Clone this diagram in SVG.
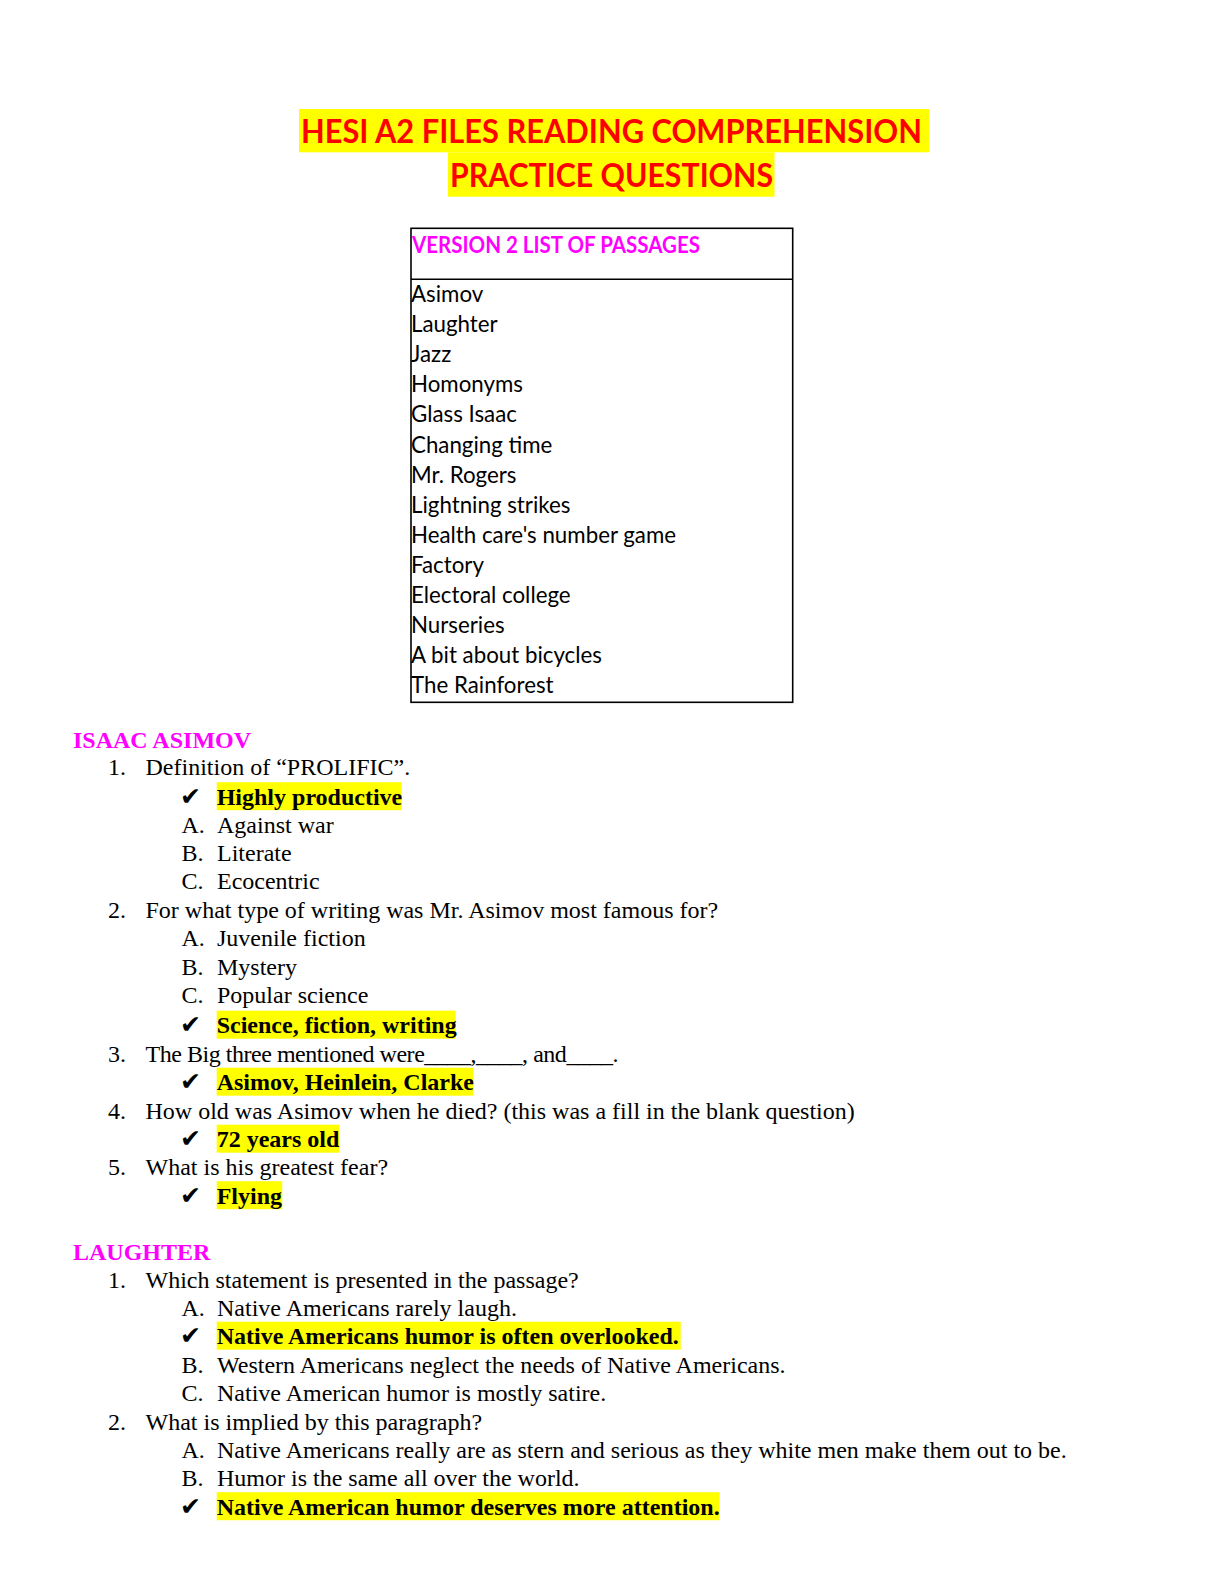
<svg xmlns="http://www.w3.org/2000/svg" width="1224" height="1584" viewBox="0 0 1224 1584">
<style>
.bg{fill:#ffffff}
.hl{fill:#ffff00}
.title{font-family:"Lato","Liberation Sans",sans-serif;font-weight:bold;font-size:32px;fill:#ff0000}
.th{font-family:"Lato","Liberation Sans",sans-serif;font-weight:bold;font-size:22px;fill:#ff00ff}
.ti{font-family:"Lato","Liberation Sans",sans-serif;font-size:22.3px;fill:#000}
.frame{fill:none;stroke:#000;stroke-width:1.6}
.b{font-family:"Liberation Serif","Times New Roman",serif;font-size:24px;fill:#000}
.a{font-family:"Liberation Serif","Times New Roman",serif;font-size:24px;font-weight:bold;fill:#000}
.h{font-family:"Liberation Serif","Times New Roman",serif;font-size:24px;font-weight:bold;fill:#ff00ff}
.c{font-family:"DejaVu Sans",sans-serif;font-size:25px;font-style:oblique;fill:#000}
</style>
<rect class="bg" x="0" y="0" width="1224" height="1584"/>

<g id="title">
<rect class="hl" x="299" y="109" width="630" height="43.3"/>
<rect class="hl" x="448" y="152.3" width="326.5" height="44.4"/>
<text class="title" x="301" y="143.3" textLength="621" lengthAdjust="spacingAndGlyphs">HESI A2 FILES READING COMPREHENSION</text>
<text class="title" x="450" y="187.3" textLength="323" lengthAdjust="spacingAndGlyphs">PRACTICE QUESTIONS</text>
</g>

<g id="passage-list">
<rect class="frame" x="411" y="228.3" width="381.7" height="474"/>
<line class="frame" x1="411" y1="279.3" x2="792.7" y2="279.3"/>
<text class="th" x="412" y="252.7" textLength="288" lengthAdjust="spacingAndGlyphs">VERSION 2 LIST OF PASSAGES</text>
<text class="ti" x="411" y="302.3">Asimov</text>
<text class="ti" x="411" y="332.3">Laughter</text>
<text class="ti" x="411" y="362.4">Jazz</text>
<text class="ti" x="411" y="392.4">Homonyms</text>
<text class="ti" x="411" y="422.4">Glass Isaac</text>
<text class="ti" x="411" y="452.5">Changing time</text>
<text class="ti" x="411" y="482.5">Mr. Rogers</text>
<text class="ti" x="411" y="512.5">Lightning strikes</text>
<text class="ti" x="411" y="542.5">Health care's number game</text>
<text class="ti" x="411" y="572.6">Factory</text>
<text class="ti" x="411" y="602.6">Electoral college</text>
<text class="ti" x="411" y="632.6">Nurseries</text>
<text class="ti" x="411" y="662.7">A bit about bicycles</text>
<text class="ti" x="411" y="692.7">The Rainforest</text>
</g>

<g id="isaac-asimov">
<text class="h" x="73" y="748">ISAAC ASIMOV</text>
<text class="b" x="108" y="775">1.</text><text class="b" x="145.5" y="775">Definition of “PROLIFIC”.</text>
<rect class="hl" x="216.7" y="782.2" width="185" height="28"/>
<text class="c" x="180" y="804.5">✔</text><text class="a" x="216.7" y="804.5">Highly productive</text>
<text class="b" x="181.5" y="833">A.</text><text class="b" x="217" y="833">Against war</text>
<text class="b" x="181.5" y="861">B.</text><text class="b" x="217" y="861">Literate</text>
<text class="b" x="181.5" y="889">C.</text><text class="b" x="217" y="889">Ecocentric</text>
<text class="b" x="108" y="917.5">2.</text><text class="b" x="145.5" y="917.5">For what type of writing was Mr. Asimov most famous for?</text>
<text class="b" x="181.5" y="946">A.</text><text class="b" x="217" y="946">Juvenile fiction</text>
<text class="b" x="181.5" y="974.5">B.</text><text class="b" x="217" y="974.5">Mystery</text>
<text class="b" x="181.5" y="1003">C.</text><text class="b" x="217" y="1003">Popular science</text>
<rect class="hl" x="216.7" y="1010.7" width="239" height="28"/>
<text class="c" x="180" y="1033">✔</text><text class="a" x="216.7" y="1033">Science, fiction, writing</text>
<text class="b" x="108" y="1061.5">3.</text>
<text class="b" x="145.5" y="1061.5" textLength="473" lengthAdjust="spacing">The Big three mentioned were____,____, and____.</text>
<rect class="hl" x="216.7" y="1067.7" width="256.6" height="28"/>
<text class="c" x="180" y="1090">✔</text><text class="a" x="216.7" y="1090">Asimov, Heinlein, Clarke</text>
<text class="b" x="108" y="1118.5">4.</text><text class="b" x="145.5" y="1118.5">How old was Asimov when he died? (this was a fill in the blank question)</text>
<rect class="hl" x="216.7" y="1124.7" width="122.3" height="28"/>
<text class="c" x="180" y="1147">✔</text><text class="a" x="216.7" y="1147">72 years old</text>
<text class="b" x="108" y="1175">5.</text><text class="b" x="145.5" y="1175">What is his greatest fear?</text>
<rect class="hl" x="216.7" y="1181.2" width="65.5" height="28"/>
<text class="c" x="180" y="1203.5">✔</text><text class="a" x="216.7" y="1203.5">Flying</text>
</g>

<g id="laughter">
<text class="h" x="73" y="1259.5">LAUGHTER</text>
<text class="b" x="108" y="1288">1.</text><text class="b" x="145.5" y="1288">Which statement is presented in the passage?</text>
<text class="b" x="181.5" y="1316">A.</text><text class="b" x="217" y="1316">Native Americans rarely laugh.</text>
<rect class="hl" x="216.7" y="1321.7" width="464" height="28"/>
<text class="c" x="180" y="1344">✔</text><text class="a" x="216.7" y="1344">Native Americans humor is often overlooked.</text>
<text class="b" x="181.5" y="1373">B.</text><text class="b" x="217" y="1373">Western Americans neglect the needs of Native Americans.</text>
<text class="b" x="181.5" y="1401">C.</text><text class="b" x="217" y="1401">Native American humor is mostly satire.</text>
<text class="b" x="108" y="1429.5">2.</text><text class="b" x="145.5" y="1429.5">What is implied by this paragraph?</text>
<text class="b" x="181.5" y="1458">A.</text><text class="b" x="217" y="1458">Native Americans really are as stern and serious as they white men make them out to be.</text>
<text class="b" x="181.5" y="1486">B.</text><text class="b" x="217" y="1486">Humor is the same all over the world.</text>
<rect class="hl" x="216.7" y="1492.2" width="503" height="28"/>
<text class="c" x="180" y="1514.5">✔</text><text class="a" x="216.7" y="1514.5">Native American humor deserves more attention.</text>
</g>
</svg>
